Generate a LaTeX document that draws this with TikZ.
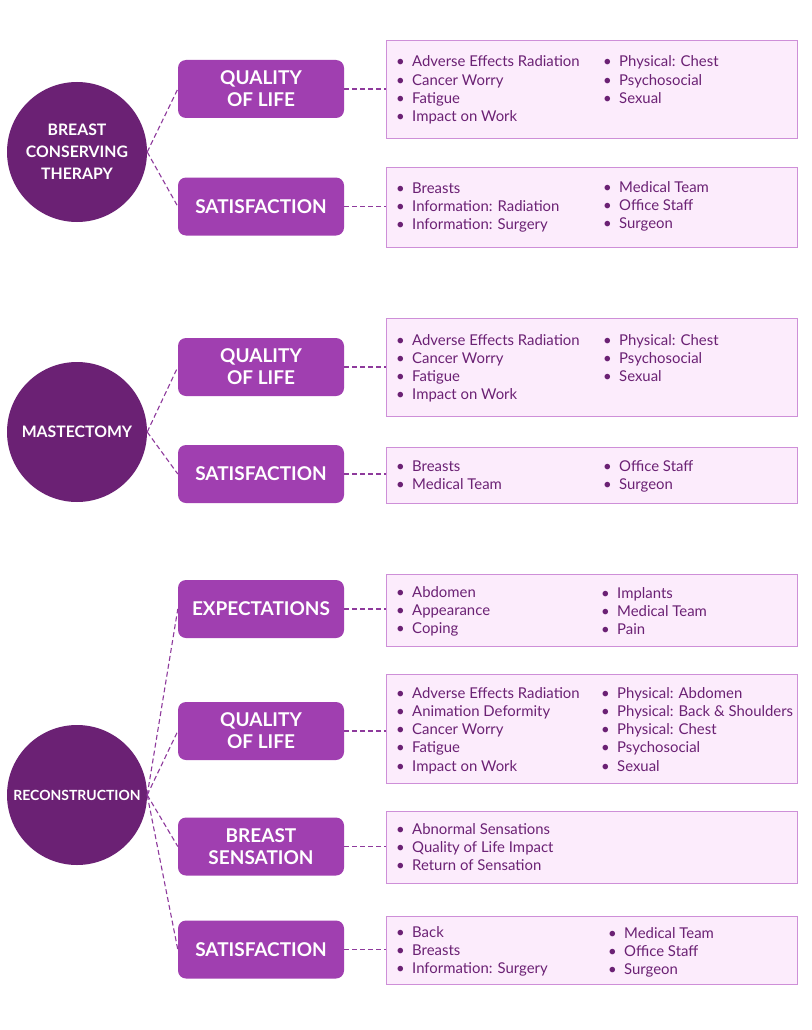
\documentclass[tikz,border=0pt]{standalone}
\usepackage{fontspec}
\setmainfont{Lato}
\definecolor{circc}{HTML}{6B2174}
\definecolor{boxc}{HTML}{A03FB0}
\definecolor{listfill}{HTML}{FCECFC}
\definecolor{listdraw}{HTML}{CE8FD8}
\definecolor{txtc}{HTML}{6B2174}
\definecolor{linec}{HTML}{8E3A9C}
\newcommand{\bi}[1]{\makebox[16pt][l]{\textbullet}#1\\}
\newcommand{\blist}[1]{\begin{tabular}[t]{@{}l@{}}#1\end{tabular}}
\tikzset{
  circnode/.style={circle, fill=circc, minimum size=140pt, inner sep=0pt, text=white,
    font=\fontsize{15.8}{22}\selectfont\bfseries, align=center},
  headbox/.style={rectangle, rounded corners=8pt, fill=boxc, minimum width=166pt,
    minimum height=58pt, inner sep=0pt, text=white, font=\fontsize{19}{22}\selectfont\bfseries, align=center},
  listbox/.style={rectangle, draw=listdraw, fill=listfill, line width=1pt, anchor=north west, inner sep=0pt},
  listtxt/.style={anchor=base west, inner sep=0pt, text=txtc, font=\fontsize{14.9}{18.3}\selectfont},
  conn/.style={draw=linec, line width=1.1pt, dash pattern=on 5pt off 3pt}
}
\begin{document}
\begin{tikzpicture}[x=1pt,y=-1pt]
\useasboundingbox[fill=white] (0,0) rectangle (811,1030);
% ---------- Breast conserving therapy
\node[circnode] (c1) at (77,152) {BREAST\\CONSERVING\\THERAPY};
\node[headbox] (h11) at (261,89) {QUALITY\\OF LIFE};
\node[headbox] (h12) at (261,206.5) {SATISFACTION};
\node[listbox, minimum width=411pt, minimum height=98pt] (l11) at (386,40) {};
\node[listbox, minimum width=411pt, minimum height=80pt] (l12) at (386,167) {};
\node[listtxt] (t111) at (396,67) {\blist{\bi{Adverse Effects Radiation}\bi{Cancer Worry}\bi{Fatigue}\bi{Impact on Work}}};
\node[listtxt] (t112) at (603,67) {\blist{\bi{Physical: Chest}\bi{Psychosocial}\bi{Sexual}}};
\node[listtxt] (t121) at (396,193) {\blist{\bi{Breasts}\bi{Information: Radiation}\bi{Information: Surgery}}};
\node[listtxt] (t122) at (603,192) {\blist{\bi{Medical Team}\bi{Office Staff}\bi{Surgeon}}};
% ---------- Mastectomy
\node[circnode] (c2) at (77,432) {MASTECTOMY};
\node[headbox] (h21) at (261,367) {QUALITY\\OF LIFE};
\node[headbox] (h22) at (261,474) {SATISFACTION};
\node[listbox, minimum width=411pt, minimum height=98pt] (l21) at (386,318) {};
\node[listbox, minimum width=411pt, minimum height=56pt] (l22) at (386,447) {};
\node[listtxt] (t211) at (396,345) {\blist{\bi{Adverse Effects Radiation}\bi{Cancer Worry}\bi{Fatigue}\bi{Impact on Work}}};
\node[listtxt] (t212) at (603,345) {\blist{\bi{Physical: Chest}\bi{Psychosocial}\bi{Sexual}}};
\node[listtxt] (t221) at (396,471) {\blist{\bi{Breasts}\bi{Medical Team}}};
\node[listtxt] (t222) at (603,471) {\blist{\bi{Office Staff}\bi{Surgeon}}};
% ---------- Reconstruction
\node[circnode, font=\fontsize{14}{22}\selectfont\bfseries] (c3) at (77,795) {RECONSTRUCTION};
\node[headbox] (h31) at (261,609) {EXPECTATIONS};
\node[headbox] (h32) at (261,731) {QUALITY\\OF LIFE};
\node[headbox] (h33) at (261,846.5) {BREAST\\SENSATION};
\node[headbox] (h34) at (261,949.5) {SATISFACTION};
\node[listbox, minimum width=411pt, minimum height=72pt] (l31) at (386,574) {};
\node[listbox, minimum width=411pt, minimum height=109pt] (l32) at (386,674) {};
\node[listbox, minimum width=411pt, minimum height=72pt] (l33) at (386,811) {};
\node[listbox, minimum width=411pt, minimum height=68pt] (l34) at (386,916) {};
\node[listtxt] (t311) at (396,597) {\blist{\bi{Abdomen}\bi{Appearance}\bi{Coping}}};
\node[listtxt] (t312) at (601,598) {\blist{\bi{Implants}\bi{Medical Team}\bi{Pain}}};
\node[listtxt] (t321) at (396,698) {\blist{\bi{Adverse Effects Radiation}\bi{Animation Deformity}\bi{Cancer Worry}\bi{Fatigue}\bi{Impact on Work}}};
\node[listtxt] (t322) at (601,698) {\blist{\bi{Physical: Abdomen}\bi{Physical: Back \& Shoulders}\bi{Physical: Chest}\bi{Psychosocial}\bi{Sexual}}};
\node[listtxt] (t331) at (396,834) {\blist{\bi{Abnormal Sensations}\bi{Quality of Life Impact}\bi{Return of Sensation}}};
\node[listtxt] (t341) at (396,937) {\blist{\bi{Back}\bi{Breasts}\bi{Information: Surgery}}};
\node[listtxt] (t342) at (608,938) {\blist{\bi{Medical Team}\bi{Office Staff}\bi{Surgeon}}};
% ---------- connectors
\foreach \c/\h in {c1/h11,c1/h12,c2/h21,c2/h22,c3/h31,c3/h32,c3/h33,c3/h34}
  \draw[conn] (\c.east) -- (\h.west);
\foreach \h/\l in {h11/l11,h12/l12,h21/l21,h22/l22,h31/l31,h32/l32,h33/l33,h34/l34}
  \draw[conn] (\h.east) -- (\h.east -| \l.west);
\end{tikzpicture}
\end{document}
